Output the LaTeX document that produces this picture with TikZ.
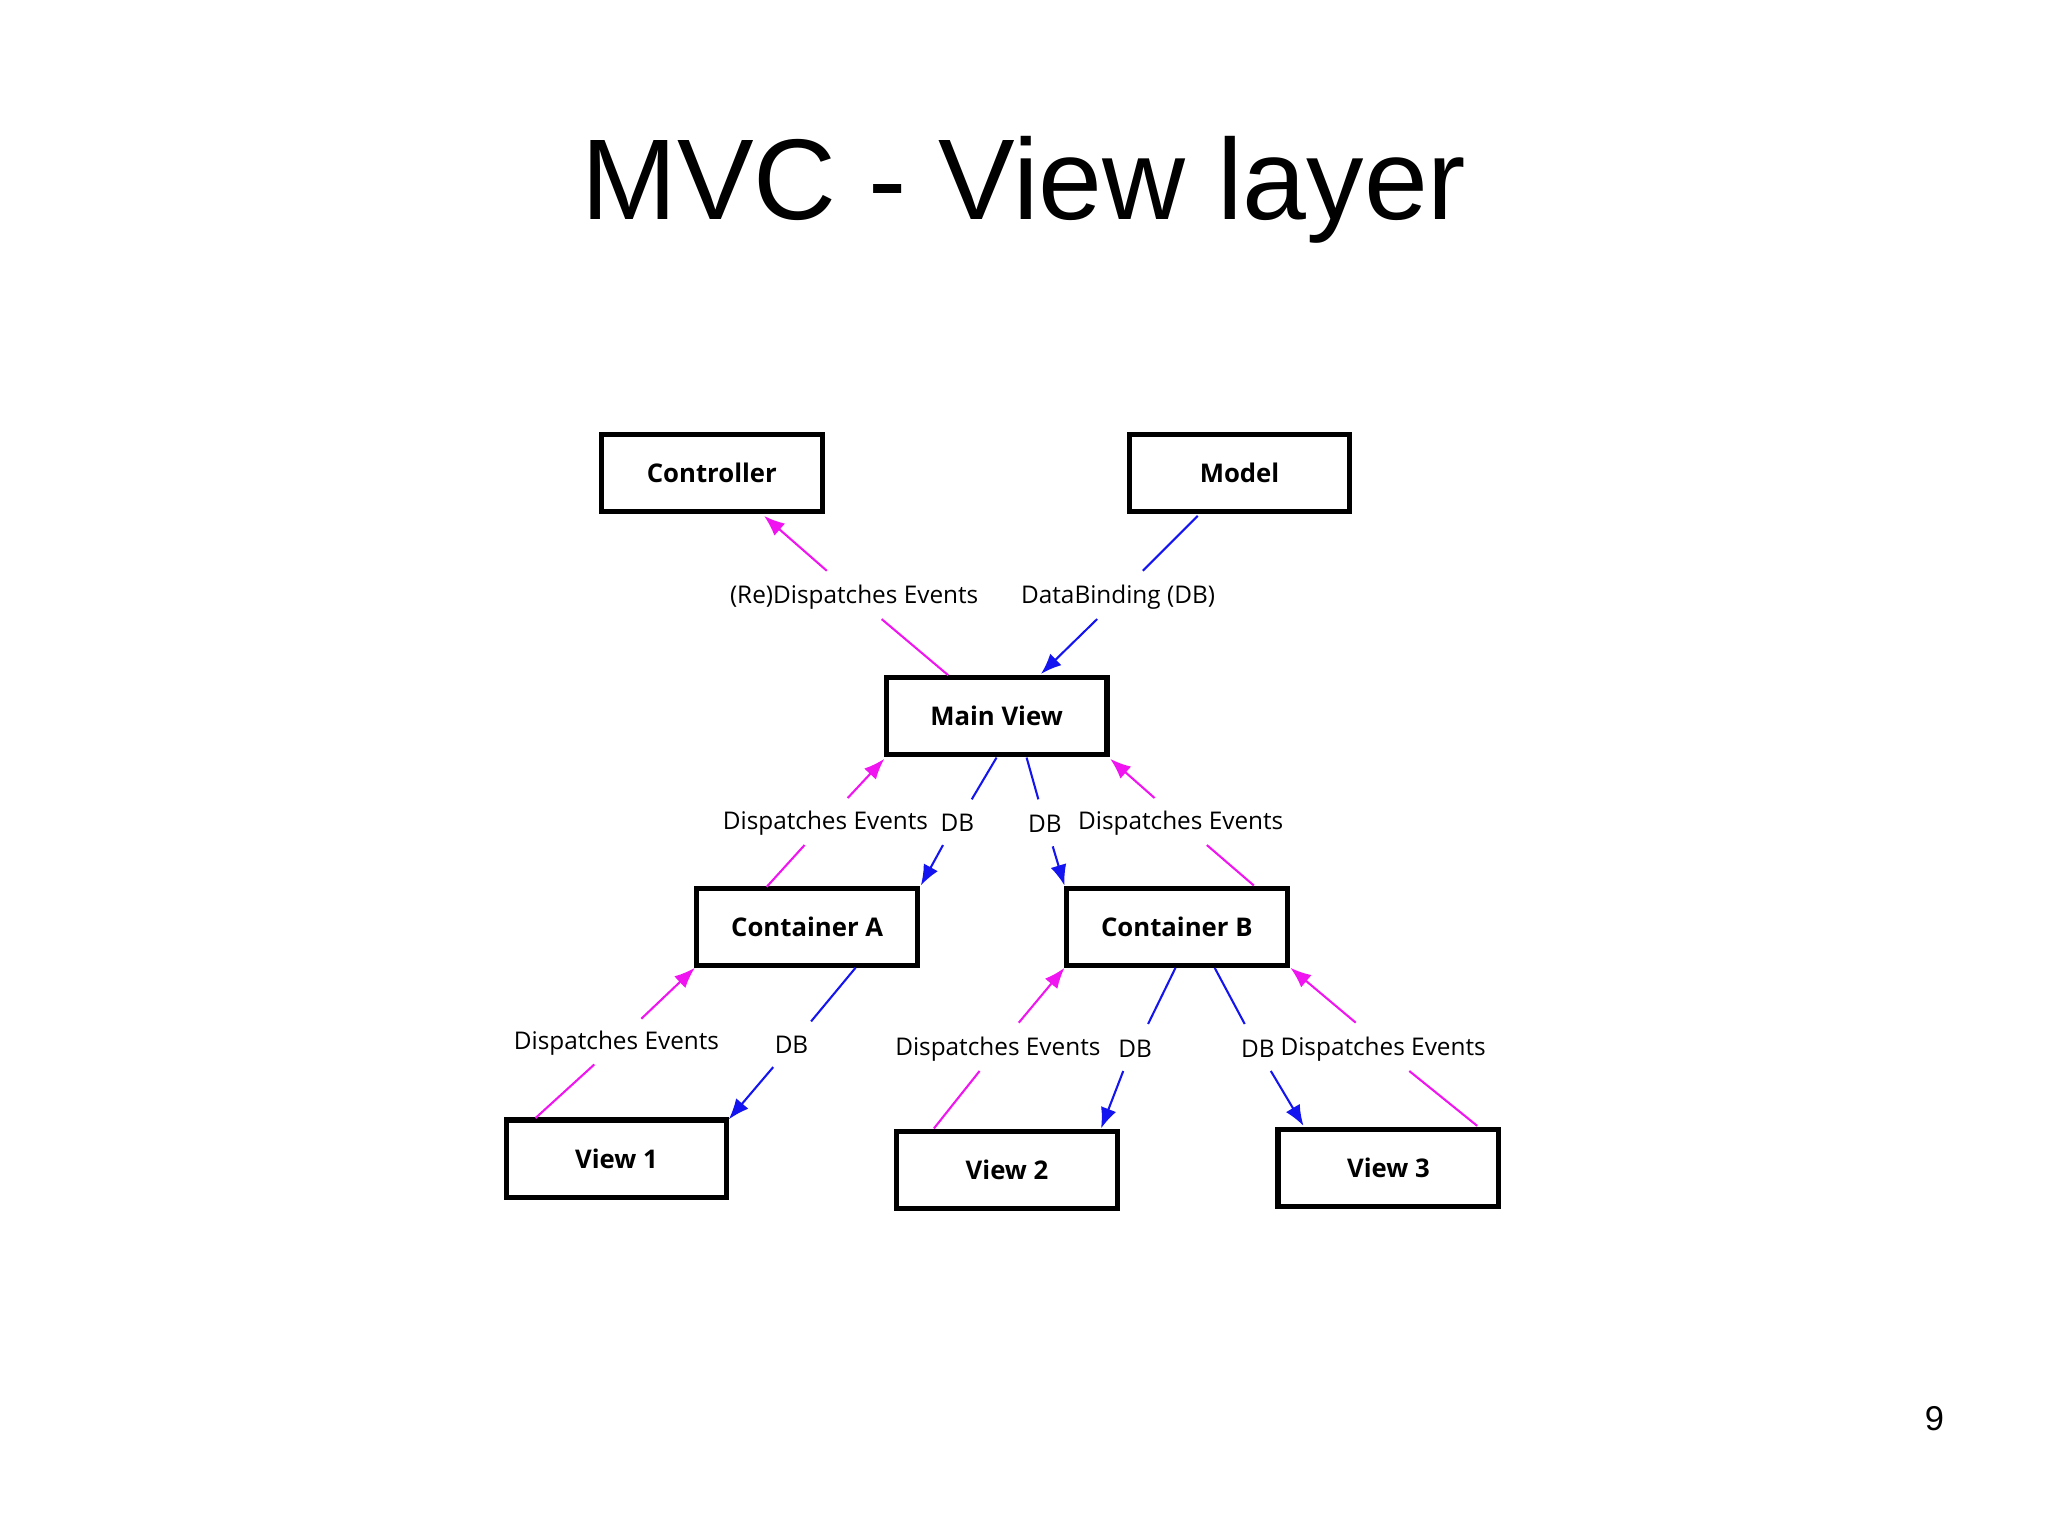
\documentclass[tikz,border=0pt]{standalone}
\usepackage{fontspec}
\setmainfont{Liberation Sans}
\newfontfamily\lblfont{Open Sans}
\usetikzlibrary{arrows.meta}
\definecolor{mag}{RGB}{240,20,240}
\definecolor{blu}{RGB}{20,20,240}
\begin{document}
\begin{tikzpicture}[x=0.01cm,y=-0.01cm,
 box/.style={draw,line width=1.1pt,minimum width=1.69cm,minimum height=0.59cm,inner sep=0pt,font=\lblfont\fontsize{5.6}{6}\selectfont\bfseries},
 lbl/.style={font=\lblfont\fontsize{5.3}{6}\selectfont,inner sep=0pt},
 ml/.style={mag,line width=0.45pt},
 bl/.style={blu,line width=0.45pt},
 ar/.style={-{Latex[length=4.5pt,width=3.5pt]}}]
\useasboundingbox (0,0) rectangle (1568,1176);
\node[font=\fontsize{25}{30}\selectfont] (title) at (784,145) {MVC - View layer};
\node[font=\rmfamily\fontsize{7.5}{9}\selectfont] (pg) at (1481,1086) {9};
\node[box] (ctrl) at (545,362) {Controller};
\node[box] (model) at (949,362) {Model};
\node[box] (mv) at (763,548) {Main View};
\node[box] (ca) at (618,710) {Container A};
\node[box] (cb) at (901,710) {Container B};
\node[box] (v1) at (472,887) {View 1};
\node[box] (v2) at (771,896) {View 2};
\node[box] (v3) at (1063,894) {View 3};
\node[lbl] (l1) at (654,457) {(Re)Dispatches Events};
\node[lbl] (l2) at (856,457) {DataBinding (DB)};
\node[lbl] (l3) at (632,630) {Dispatches Events};
\node[lbl] (l4) at (733,630) {DB};
\node[lbl] (l5) at (800,631) {DB};
\node[lbl] (l6) at (904,630) {Dispatches Events};
\node[lbl] (l7) at (472,799) {Dispatches Events};
\node[lbl] (l8) at (606,800) {DB};
\node[lbl] (l9) at (764,803) {Dispatches Events};
\node[lbl] (l10) at (869,803) {DB};
\node[lbl] (l11) at (963,803) {DB};
\node[lbl] (l12) at (1059,803) {Dispatches Events};
% endpoints
\foreach \n/\x/\y in {a1/726/517,a2/675/474,a3/633/437,a4/585/395,
 b1/917/395,b2/875/437,b3/840/474,b4/797/516,
 c1/587/679,c2/616/647,c3/649/611,c4/677/581,
 d1/763/580,d2/744/612,d3/722/647,d4/705/678,
 e1/786/580,e2/795/612,e3/806/648,e4/815/678,
 f1/960/678,f2/924/647,f3/884/611,f4/850/581,
 g1/410/856,g2/455/815,g3/491/780,g4/532/741,
 h1/655/741,h2/621/782,h3/592/817,h4/558/857,
 i1/715/864,i2/750/820,i3/780/783,i4/815/741,
 j1/900/741,j2/879/784,j3/860/820,j4/843/864,
 k1/930/741,k2/953/784,k3/973/820,k4/998/862,
 m1/1131/862,m2/1079/820,m3/1038/783,m4/988/741}
 \coordinate (\n) at (\x,\y);
\foreach \p/\s in {a/ml,b/bl,c/ml,d/bl,e/bl,f/ml,g/ml,h/bl,i/ml,j/bl,k/bl,m/ml}{
 \draw[\s] (\p1) -- (\p2);
 \draw[\s,ar] (\p3) -- (\p4);
}
\end{tikzpicture}
\end{document}
